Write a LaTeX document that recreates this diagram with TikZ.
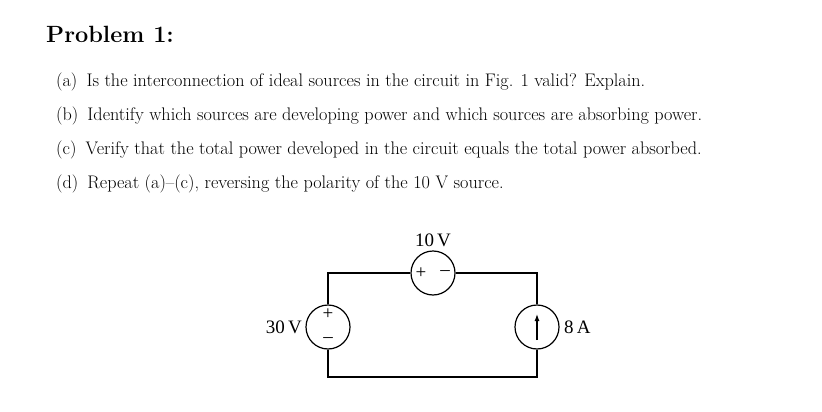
\documentclass[tikz,border=0pt]{standalone}
\usepackage{fontspec}
\usetikzlibrary{arrows.meta}
\newfontfamily\ckt[Ligatures=TeX]{Liberation Serif}
\begin{document}
\begin{tikzpicture}[x=1pt,y=-1pt,
  txt/.style={anchor=base west,inner sep=0,font=\fontsize{18.2}{20}\selectfont},
  src/.style={circle,draw,line width=1.2pt,minimum size=44pt,inner sep=0},
  lbl/.style={font=\ckt\fontsize{19}{21}\selectfont,inner sep=0},
  wire/.style={line width=1.2pt}]
\useasboundingbox (0,0) rectangle (822,412);
\node[anchor=base west,inner sep=0,font=\bfseries\fontsize{23.5}{26}\selectfont] (title) at (46,43) {Problem 1:};
\node[txt] (a) at (56,86) {(a)\enspace Is the interconnection of ideal sources in the circuit in Fig. 1 valid? Explain.};
\node[txt] (b) at (56,120) {(b)\enspace Identify which sources are developing power and which sources are absorbing power.};
\node[txt] (c) at (56,154) {(c)\enspace Verify that the total power developed in the circuit equals the total power absorbed.};
\node[txt] (d) at (56,188) {(d)\enspace Repeat (a)--(c), reversing the polarity of the 10 V source.};
\coordinate (tl) at (328,273); \coordinate (tr) at (537,273);
\coordinate (bl) at (328,377); \coordinate (br) at (537,377);
\node[src] (v30) at (328,327) {};
\node[src] (v10) at (433,273) {};
\node[src] (i8) at (537,327) {};
\draw[wire] (v30.north) -- (tl) -- (v10.west);
\draw[wire] (v10.east) -- (tr) -- (i8.north);
\draw[wire] (v30.south) -- (bl) -- (br) -- (i8.south);
\node[lbl] (p30) at (328,314) {+};
\node[lbl] (m30) at (328,340) {--};
\node[lbl] (p10) at (421,273) {+};
\node[lbl] (m10) at (445,273) {--};
\draw[wire,-{Latex[length=7pt,width=5pt]}] (537,340) -- (537,314);
\node[lbl,anchor=east] (l30) at (302,327) {30\,V};
\node[lbl] (l10) at (433,240) {10\,V};
\node[lbl,anchor=west] (l8) at (564,327) {8\,A};
\end{tikzpicture}
\end{document}
